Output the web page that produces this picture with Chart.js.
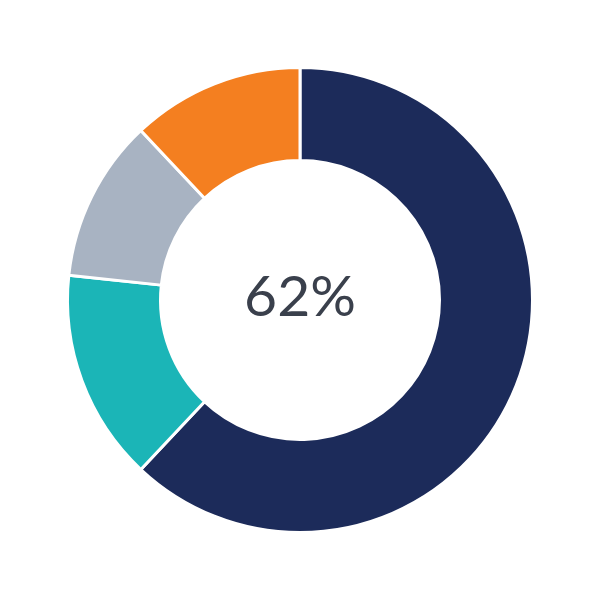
<!DOCTYPE html>
<html><head><meta charset="utf-8">
<script src="https://cdn.jsdelivr.net/npm/chart.js@4"></script>
<style>html,body{margin:0;padding:0;background:#fff}#wrap{width:600px;height:600px;position:relative}</style>
</head><body><div id="wrap"><canvas id="c" width="600" height="600"></canvas></div>
<script>
const categories = ["A", "B", "C", "D"];
const values = [62, 14.7, 11.3, 12];
const colors = ["#1c2b5a", "#1bb5b7", "#a8b3c2", "#f47f20"];
const centerLabel = "62%";

const centerText = {
  id: 'centerText',
  afterDraw(chart) {
    const {ctx} = chart;
    const meta = chart.getDatasetMeta(0).data[0];
    ctx.save();
    ctx.font = '400 57px Lato, "Open Sans", sans-serif';
    ctx.fillStyle = '#3a404c';
    ctx.textAlign = 'center';
    ctx.textBaseline = 'middle';
    ctx.fillText(centerLabel, meta.x, meta.y - 2);
    ctx.restore();
  }
};

new Chart(document.getElementById('c'), {
  type: 'doughnut',
  data: { labels: categories, datasets: [{ data: values, backgroundColor: colors, borderColor: '#fff', borderWidth: 3 }] },
  options: {
    responsive: false, animation: false, cutout: '60%',
    layout: { padding: 66 },
    plugins: { legend: { display: false }, tooltip: { enabled: false } }
  },
  plugins: [centerText]
});
</script></body></html>
